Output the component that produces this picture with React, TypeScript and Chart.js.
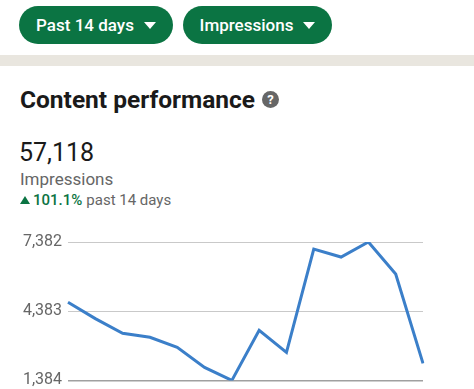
import React, { useEffect, useRef } from "react";
import { Chart, registerables } from "chart.js";

Chart.register(...registerables);

const days = ["1", "2", "3", "4", "5", "6", "7", "8", "9", "10", "11", "12", "13", "14"];
const impressions = [4774, 4060, 3427, 3253, 2818, 1949, 1384, 3557, 2601, 7077, 6730, 7382, 5991, 2123];
const yTicks = [1384, 4383, 7382];

const FONT = "Roboto, 'Noto Sans', sans-serif";

function Pill({ left, width, label }: { left: number; width: number; label: string }) {
  return (
    <div
      style={{
        position: "absolute",
        left,
        top: 6,
        width,
        height: 38,
        borderRadius: 19,
        background: "#0b7443",
        color: "#fff",
        fontFamily: FONT,
        fontSize: 17,
        fontWeight: 500,
        display: "flex",
        alignItems: "center",
        justifyContent: "center",
        gap: 10,
      }}
    >
      <span>{label}</span>
      <svg width="12" height="7" viewBox="0 0 12 7">
        <path d="M0 0 L12 0 L6 7 Z" fill="#fff" />
      </svg>
    </div>
  );
}

export default function App() {
  const ref = useRef<HTMLCanvasElement>(null);

  useEffect(() => {
    document.body.style.margin = "0";
    document.body.style.overflow = "hidden";
    const chart = new Chart(ref.current!, {
      type: "line",
      data: {
        labels: days,
        datasets: [
          {
            data: impressions,
            borderColor: "#3b7fc9",
            borderWidth: 3,
            pointRadius: 0,
            tension: 0,
            fill: false,
          },
        ],
      },
      options: {
        animation: false,
        responsive: false,
        maintainAspectRatio: false,
        layout: { padding: { top: 17, bottom: 10, right: 51, left: 0 } },
        plugins: { legend: { display: false }, tooltip: { enabled: false } },
        scales: {
          x: { display: false, offset: false },
          y: {
            min: 1384,
            max: 7382,
            afterBuildTicks: (axis: any) => {
              axis.ticks = yTicks.map((v) => ({ value: v }));
            },
            afterFit: (axis: any) => {
              axis.width = 68;
            },
            border: { display: false },
            grid: {
              drawTicks: false,
              color: (ctx: any) => (ctx.tick && ctx.tick.value === 1384 ? "#a0a0a0" : "#c9c9c9"),
              lineWidth: (ctx: any) => (ctx.tick && ctx.tick.value === 1384 ? 1.5 : 1),
            },
            ticks: {
              padding: 6,
              color: "#666",
              font: { family: FONT, size: 16 },
              callback: (v: any) => Number(v).toLocaleString("en-US"),
            },
          },
        },
      },
    });
    return () => chart.destroy();
  }, []);

  return (
    <div style={{ position: "fixed", left: 0, top: 0, width: 474, height: 389, overflow: "hidden", background: "#fff" }}>
      <Pill left={19} width={154} label="Past 14 days" />
      <Pill left={183} width={149} label="Impressions" />
      <div style={{ position: "absolute", left: 0, top: 55, width: 474, height: 11, background: "#e9e6df" }} />
      <div
        style={{
          position: "absolute",
          left: 20,
          top: 85,
          fontFamily: FONT,
          fontSize: 24.5,
          fontWeight: 700,
          color: "#1a1a1a",
          display: "flex",
          alignItems: "center",
          whiteSpace: "nowrap",
        }}
      >
        <span>Content performance</span>
        <span
          style={{
            display: "inline-flex",
            marginLeft: 7,
            width: 17,
            height: 17,
            borderRadius: 9,
            background: "#666",
            color: "#fff",
            fontSize: 13,
            fontWeight: 700,
            alignItems: "center",
            justifyContent: "center",
          }}
        >
          ?
        </span>
      </div>
      <div style={{ position: "absolute", left: 19, top: 138, fontFamily: FONT, fontSize: 25, color: "#1a1a1a" }}>57,118</div>
      <div style={{ position: "absolute", left: 20, top: 169, fontFamily: FONT, fontSize: 17, color: "#666" }}>Impressions</div>
      <div
        style={{
          position: "absolute",
          left: 20,
          top: 191,
          fontFamily: FONT,
          fontSize: 15,
          color: "#666",
          whiteSpace: "nowrap",
          display: "flex",
          alignItems: "center",
        }}
      >
        <svg width="10" height="8" viewBox="0 0 10 8" style={{ marginRight: 3 }}>
          <path d="M0 8 L10 8 L5 0 Z" fill="#0b7443" />
        </svg>
        <span style={{ color: "#0b7443", fontWeight: 500 }}>101.1%</span>
        <span style={{ marginLeft: 4 }}>past 14 days</span>
      </div>
      <canvas ref={ref} width={474} height={171} style={{ position: "absolute", left: 0, top: 225, width: 474, height: 171 }} />
    </div>
  );
}
